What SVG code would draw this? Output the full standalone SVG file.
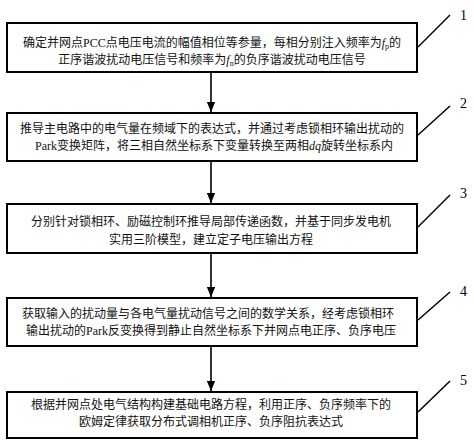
<svg xmlns="http://www.w3.org/2000/svg" width="474" height="444" viewBox="0 0 474 444">
<defs>
<style>
.box{fill:#fff;stroke:#000;stroke-width:2}
.t{font-family:"Liberation Serif","Noto Sans CJK SC",serif;font-size:12px;fill:#111;text-anchor:middle}
.lbl{font-family:"Liberation Serif",serif;font-size:14px;fill:#000}
.ln{stroke:#000;stroke-width:1.6;fill:none}
.ld{stroke:#000;stroke-width:1.5;fill:none}
</style>
<marker id="ah" markerWidth="10" markerHeight="12" refX="5" refY="12" orient="auto" markerUnits="userSpaceOnUse" viewBox="0 0 10 12">
<path d="M0,0 L10,0 L5,12 Z" fill="#000" transform="rotate(-90 5 6)"/>
</marker>
<marker id="a" markerWidth="10" markerHeight="12" refX="12" refY="5" orient="auto" markerUnits="userSpaceOnUse" viewBox="0 0 12 10">
<path d="M0,0 L12,5 L0,10 Z" fill="#000"/>
</marker>
</defs>
<rect width="474" height="444" fill="#fff"/>
<g id="connectors">
<line class="ln" x1="211" y1="72" x2="211" y2="112" marker-end="url(#a)"/>
<line class="ln" x1="211" y1="161" x2="211" y2="203" marker-end="url(#a)"/>
<line class="ln" x1="211" y1="253" x2="211" y2="297" marker-end="url(#a)"/>
<line class="ln" x1="211" y1="346" x2="211" y2="391" marker-end="url(#a)"/>
<line class="ld" x1="418" y1="47" x2="450" y2="15"/>
<line class="ld" x1="418" y1="135" x2="450" y2="106"/>
<line class="ld" x1="418" y1="227" x2="450" y2="195"/>
<line class="ld" x1="418" y1="320" x2="450" y2="292"/>
<line class="ld" x1="418" y1="412" x2="450" y2="381"/>
</g>
<g id="node1">
<rect class="box" x="7" y="23" width="410" height="49"/>
<text class="t" x="212" y="47">确定并网点PCC点电压电流的幅值相位等参量，每相分别注入频率为<tspan font-style="italic">f</tspan><tspan font-size="8" dy="2">p</tspan><tspan dy="-2">的</tspan></text>
<text class="t" x="212" y="64">正序谐波扰动电压信号和频率为<tspan font-style="italic">f</tspan><tspan font-size="8" dy="2">n</tspan><tspan dy="-2">的负序谐波扰动电压信号</tspan></text>
<text class="lbl" x="460" y="20">1</text>
</g>
<g id="node2">
<rect class="box" x="7" y="113" width="410" height="48"/>
<text class="t" x="212" y="133">推导主电路中的电气量在频域下的表达式，并通过考虑锁相环输出扰动的</text>
<text class="t" x="214" y="150">Park变换矩阵，将三相自然坐标系下变量转换至两相<tspan font-style="italic">dq</tspan>旋转坐标系内</text>
<text class="lbl" x="460" y="108">2</text>
</g>
<g id="node3">
<rect class="box" x="7" y="204" width="410" height="49"/>
<text class="t" x="211" y="226">分别针对锁相环、励磁控制环推导局部传递函数，并基于同步发电机</text>
<text class="t" x="211" y="244">实用三阶模型，建立定子电压输出方程</text>
<text class="lbl" x="460" y="198">3</text>
</g>
<g id="node4">
<rect class="box" x="7" y="298" width="410" height="48"/>
<text class="t" x="208" y="318">获取输入的扰动量与各电气量扰动信号之间的数学关系，经考虑锁相环</text>
<text class="t" x="211" y="335">输出扰动的Park反变换得到静止自然坐标系下并网点电正序、负序电压</text>
<text class="lbl" x="460" y="296">4</text>
</g>
<g id="node5">
<rect class="box" x="7" y="392" width="410" height="46"/>
<text class="t" x="211" y="409">根据并网点处电气结构构建基础电路方程，利用正序、负序频率下的</text>
<text class="t" x="211" y="426">欧姆定律获取分布式调相机正序、负序阻抗表达式</text>
<text class="lbl" x="460" y="385">5</text>
</g>
</svg>
